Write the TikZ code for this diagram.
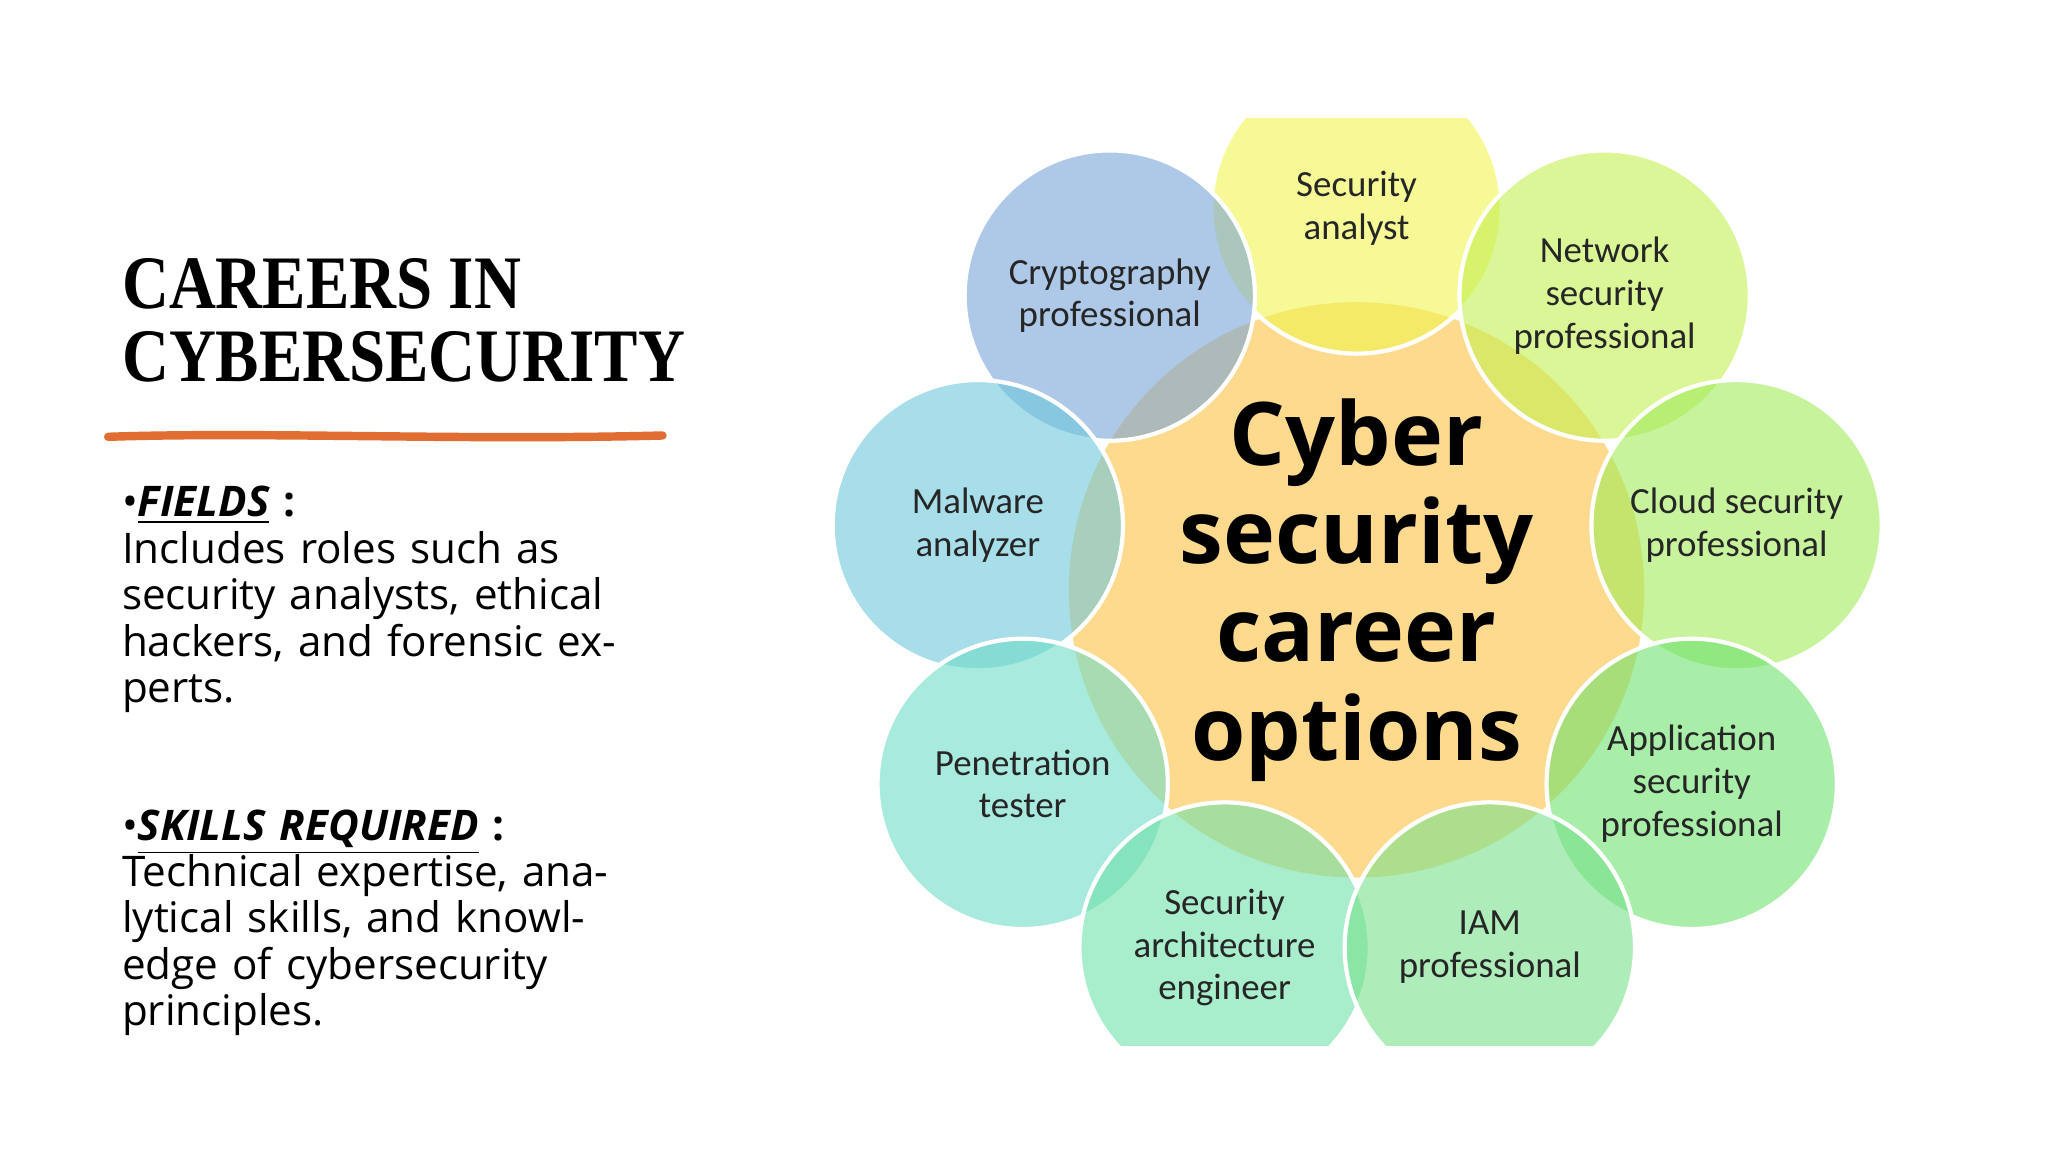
\documentclass[tikz,border=0pt]{standalone}
\usepackage{fontspec}
\setmainfont{Open Sans}
\newfontfamily\titlefont[FakeStretch=0.86]{Liberation Serif}
\newfontfamily\lblfont{Carlito}
\begin{document}
\begin{tikzpicture}[x=0.0132cm,y=-0.0132cm,
  bub/.style={circle,minimum size=220*0.0132cm,inner sep=0pt,draw=white,line width=1.2pt,fill opacity=0.6,text opacity=1,align=center,font=\lblfont\fontsize{10.5}{12.2}\selectfont,text=black!85},
  body/.style={anchor=north west,align=left,font=\fontsize{12}{13.2}\selectfont,text width=390*0.0132cm}]
\useasboundingbox (0,0) rectangle (1552,873);
\fill[white] (0,0) rectangle (1552,873);
\node[anchor=north west,align=left,inner sep=0pt,font=\titlefont\bfseries\fontsize{21.5}{21}\selectfont] (title) at (92,195) {CAREERS IN\\CYBERSECURITY};
\draw[color={rgb,255:red,224;green,110;blue,50},line width=2.4pt,line cap=round] (82,331) .. controls (200,327) and (350,334) .. (502,330);
\node[body,inner sep=0pt] (fields) at (92,368) {\hyphenpenalty=10000 •\textbf{\textit{\underline{FIELDS}} :}\\Includes roles such as security analysts, ethical hackers, and forensic experts.};
\node[body,inner sep=0pt] (skills) at (92,613) {\hyphenpenalty=10000 •\textbf{\textit{\underline{SKILLS REQUIRED}} :}\\Technical expertise, analytical skills, and knowledge of cybersecurity principles.};
\begin{scope}
\clip (620,90) rectangle (1440,792);
\node[circle,minimum size=436*0.0132cm,fill={rgb,255:red,253;green,214;blue,130},fill opacity=0.9] (core) at (1028,447) {};
\node[bub,fill={rgb,255:red,240;green,245;blue,80}] (sa) at (1028,158) {Security\\analyst};
\node[bub,fill={rgb,255:red,120;green,165;blue,215}] (cr) at (841,224) {Cryptography\\professional};
\node[bub,fill={rgb,255:red,195;green,240;blue,80}] (ns) at (1216,224) {Network\\security\\professional};
\node[bub,fill={rgb,255:red,110;green,200;blue,220}] (mw) at (741,398) {Malware\\analyzer};
\node[bub,fill={rgb,255:red,160;green,235;blue,90}] (cl) at (1316,398) {Cloud security\\professional};
\node[bub,fill={rgb,255:red,110;green,220;blue,200}] (pt) at (775,594) {Penetration\\tester};
\node[bub,fill={rgb,255:red,110;green,225;blue,110}] (ap) at (1282,594) {Application\\security\\professional};
\node[bub,fill={rgb,255:red,110;green,225;blue,170}] (ar) at (928,718) {Security\\architecture\\engineer};
\node[bub,fill={rgb,255:red,120;green,225;blue,140}] (iam) at (1129,718) {IAM\\professional};
\end{scope}
\node[align=center,font=\bfseries\fontsize{25}{28}\selectfont] (ct) at (1028,447) {Cyber\\security\\career\\options};
\end{tikzpicture}
\end{document}
